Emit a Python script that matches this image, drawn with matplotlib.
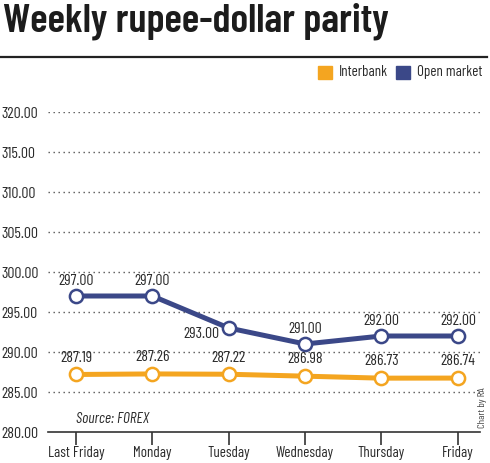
import matplotlib
matplotlib.use('Agg')
import matplotlib.pyplot as plt
from matplotlib import font_manager as fm
from matplotlib.patches import Rectangle
from matplotlib.lines import Line2D

days = ['Last Friday', 'Monday', 'Tuesday', 'Wednesday', 'Thursday', 'Friday']
interbank = [287.19, 287.26, 287.22, 286.98, 286.73, 286.74]
open_market = [297.00, 297.00, 293.00, 291.00, 292.00, 292.00]
y_ticks = [280, 285, 290, 295, 300, 305, 310, 315, 320]

orange = '#f4a520'
blue = '#3b4888'
txt = '#2a2a2a'

# narrow font if there is one, else condensed DejaVu a bit smaller
installed = {f.name for f in fm.fontManager.ttflist}
if 'Barlow Condensed' in installed:
    plt.rcParams['font.family'] = ['Barlow Condensed', 'DejaVu Sans']
    k = 1.0
else:
    plt.rcParams['font.family'] = ['DejaVu Sans']
    plt.rcParams['font.stretch'] = 'condensed'
    k = 0.8

fig = plt.figure(figsize=(4.9, 4.63), dpi=100)
ax = fig.add_axes([48/490, 1 - 432/463, 432/490, 320/463])

x = list(range(len(days)))
ax.plot(x, open_market, color=blue, lw=3.6, marker='o', ms=9.5,
        mfc='white', mec=blue, mew=1.8, zorder=3)
ax.plot(x, interbank, color=orange, lw=3.6, marker='o', ms=9.5,
        mfc='white', mec=orange, mew=1.8, zorder=3)

for i, v in enumerate(open_market):
    if i == 2:
        ax.annotate(f'{v:.2f}', (i, v), xytext=(-7, -4), textcoords='offset points',
                    ha='right', va='center', fontsize=11.3*k, color=txt)
    else:
        ax.annotate(f'{v:.2f}', (i, v), xytext=(0, 6), textcoords='offset points',
                    ha='center', va='bottom', fontsize=11.3*k, color=txt)
for i, v in enumerate(interbank):
    ax.annotate(f'{v:.2f}', (i, v), xytext=(0, 7), textcoords='offset points',
                ha='center', va='bottom', fontsize=11.3*k, color=txt)

ax.set_xlim(-0.366, 5.29)
ax.set_ylim(280, 320)
ax.set_yticks(y_ticks)
ax.set_yticklabels([f'{t:.2f}' for t in y_ticks], ha='left')
ax.set_xticks(x)
ax.set_xticklabels(days)
for t in y_ticks[1:]:
    ax.axhline(t, color='#555555', lw=1, ls=(0, (1, 2.6)), zorder=1)

for s in ['top', 'right', 'left']:
    ax.spines[s].set_visible(False)
ax.spines['bottom'].set_color('#333333')
ax.spines['bottom'].set_linewidth(1.2)
ax.tick_params(axis='y', length=0, pad=33.5, labelsize=11.3*k, labelcolor=txt)
ax.tick_params(axis='x', length=9, width=1.2, color='#333333', pad=1,
               labelsize=10.8*k, labelcolor=txt)

ax.text(0, 280.8, 'Source: FOREX', style='italic', fontsize=11*k, color=txt,
        ha='left', va='bottom')
fig.text(482/490, 1 - 408/463, 'Chart by RA', rotation=90, fontsize=7.5*k,
         color='#444444', ha='center', va='center')

# title and rule
fig.text(3/490, 1 - 32/463, 'Weekly rupee-dollar parity', fontsize=29.5*k,
         fontweight='semibold', color='#1c1c1c', ha='left', va='baseline')
fig.add_artist(Line2D([0, 487/490], [1 - 57/463, 1 - 57/463], color='#222222', lw=1.6))

# legend
for px, col, lab in [(318, orange, 'Interbank'), (396, blue, 'Open market')]:
    fig.add_artist(Rectangle((px/490, 1 - 79/463), 14/490, 13/463,
                             color=col, transform=fig.transFigure))
    fig.text((px + 21)/490, 1 - 72/463, lab, fontsize=10.8*k, color=txt,
             ha='left', va='center')

fig.savefig('out.png', dpi=100)
